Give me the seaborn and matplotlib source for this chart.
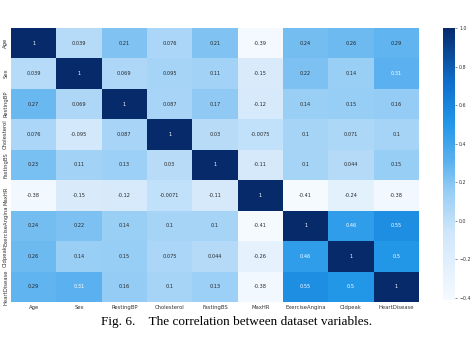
import numpy as np
import pandas as pd
import seaborn as sns
import matplotlib
matplotlib.use("Agg")
import matplotlib.pyplot as plt
from matplotlib.colors import LinearSegmentedColormap

x_labels = ["Age", "Sex", "RestingBP", "Cholesterol", "FastingBS", "MaxHR",
            "ExerciseAngina", "Oldpeak", "HeartDisease"]
y_labels = ["Age", "Sex", "RestingBP", "Cholesterol", "FastingBS", "MaxHR",
            "ExerciseAngina", "Oldpeak", "HeartDisease"]

row_age = [1, 0.039, 0.21, 0.076, 0.21, -0.39, 0.24, 0.26, 0.29]
row_sex = [0.039, 1, 0.069, 0.095, 0.11, -0.15, 0.22, 0.14, 0.31]
row_restingbp = [0.27, 0.069, 1, 0.087, 0.17, -0.12, 0.14, 0.15, 0.16]
row_cholesterol = [0.076, -0.095, 0.087, 1, 0.03, -0.0075, 0.1, 0.071, 0.1]
row_fastingbs = [0.23, 0.11, 0.13, 0.03, 1, -0.11, 0.1, 0.044, 0.15]
row_maxhr = [-0.38, -0.15, -0.12, -0.0071, -0.11, 1, -0.41, -0.24, -0.38]
row_exang = [0.24, 0.22, 0.14, 0.1, 0.1, -0.41, 1, 0.46, 0.55]
row_oldpeak = [0.26, 0.14, 0.15, 0.075, 0.044, -0.26, 0.46, 1, 0.5]
row_hd = [0.29, 0.31, 0.16, 0.1, 0.13, -0.38, 0.55, 0.5, 1]

data = pd.DataFrame([row_age, row_sex, row_restingbp, row_cholesterol, row_fastingbs,
                     row_maxhr, row_exang, row_oldpeak, row_hd],
                    index=y_labels, columns=x_labels)

cmap = LinearSegmentedColormap.from_list("bright_blues", [
    (0.0, "#f5faff"),
    (0.25, "#cfe6fa"),
    (0.40, "#96cdf5"),
    (0.50, "#5fb3ef"),
    (0.65, "#2196e8"),
    (0.80, "#0f6fcc"),
    (1.0, "#072a6b"),
])

fig = plt.figure(figsize=(4.74, 3.40), dpi=100)
ax = fig.add_axes([11/474, 1 - 302/340, (419-11)/474, (302-28)/340])
cax = fig.add_axes([443/474, 1 - 300/340, 12/474, (300-28)/340])

sns.heatmap(data, ax=ax, cbar_ax=cax, cmap=cmap, annot=True,
            annot_kws={"fontsize": 3.6}, vmin=-0.41, vmax=1.0)

ax.tick_params(axis="both", length=0, labelsize=3.8, pad=2, colors="#333333")
ax.set_xticklabels(x_labels, rotation=0, fontsize=3.8)
ax.set_yticklabels(y_labels, rotation=90, fontsize=3.8, va="center")
cax.tick_params(labelsize=3.4, length=1.5, width=0.4, pad=1.5, colors="#333333")
cax.set_yticks([-0.4, -0.2, 0.0, 0.2, 0.4, 0.6, 0.8, 1.0])
for s in cax.spines.values():
    s.set_visible(False)

fig.text(0.5, 1 - 322/340, "Fig. 6.    The correlation between dataset variables.",
         ha="center", va="center", fontsize=9.5, family="Liberation Serif")

fig.savefig("out.png", dpi=100)
